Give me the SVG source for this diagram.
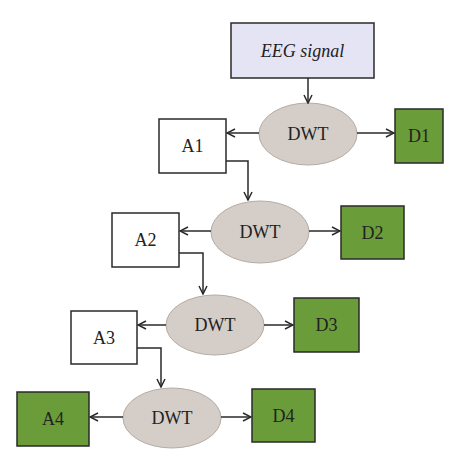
<svg xmlns="http://www.w3.org/2000/svg" width="474" height="474" viewBox="0 0 474 474">
<style>
.box{fill:#fff;stroke:#2a2a2a;stroke-width:1.5}
.green{fill:#6a9c3a;stroke:#2a2a2a;stroke-width:1.5}
.sig{fill:#e4e4f4;stroke:#2a2a2a;stroke-width:1.5}
.ell{fill:#d5cdc7;stroke:#b5aca6;stroke-width:1}
.t{font-family:"Liberation Serif",serif;font-size:18px;fill:#222;text-anchor:middle;dominant-baseline:central}
.c{fill:none;stroke:#2a2a2a;stroke-width:1.5;marker-end:url(#ah)}
</style>
<defs>
<marker id="ah" viewBox="0 0 10 10" refX="9" refY="5" markerWidth="10" markerHeight="10" markerUnits="userSpaceOnUse" orient="auto">
<path d="M1,1 L9,5 L1,9" fill="none" stroke="#2a2a2a" stroke-width="1.5"/>
</marker>
</defs>
<g id="eeg"><rect class="sig" x="231" y="23" width="143" height="55"/><text class="t" x="302.5" y="50.5" font-style="italic" font-size="16.5">EEG signal</text></g>
<g id="dwt1"><ellipse class="ell" cx="308" cy="134" rx="49" ry="31"/><text class="t" x="308" y="134">DWT</text></g>
<g id="a1"><rect class="box" x="159" y="119" width="67" height="54"/><text class="t" x="192.5" y="146">A1</text></g>
<g id="d1"><rect class="green" x="395" y="109" width="48" height="54"/><text class="t" x="419" y="136">D1</text></g>
<g id="dwt2"><ellipse class="ell" cx="260" cy="232" rx="49" ry="31"/><text class="t" x="260" y="232">DWT</text></g>
<g id="a2"><rect class="box" x="112" y="213" width="67" height="54"/><text class="t" x="145.5" y="240">A2</text></g>
<g id="d2"><rect class="green" x="341" y="206" width="63" height="53"/><text class="t" x="372.5" y="232.5">D2</text></g>
<g id="dwt3"><ellipse class="ell" cx="215" cy="325" rx="49" ry="30"/><text class="t" x="215" y="325">DWT</text></g>
<g id="a3"><rect class="box" x="71" y="311" width="66" height="53"/><text class="t" x="104" y="337.5">A3</text></g>
<g id="d3"><rect class="green" x="294" y="298" width="65" height="54"/><text class="t" x="326.5" y="325">D3</text></g>
<g id="dwt4"><ellipse class="ell" cx="172" cy="418" rx="49" ry="30"/><text class="t" x="172" y="418">DWT</text></g>
<g id="a4"><rect class="green" x="17" y="392" width="72" height="54"/><text class="t" x="53" y="419">A4</text></g>
<g id="d4"><rect class="green" x="252" y="389" width="63" height="53"/><text class="t" x="283.5" y="415.5">D4</text></g>
<g id="connectors">
<path class="c" d="M308,78 V103"/>
<path class="c" d="M259,133 H227"/>
<path class="c" d="M357,133 H394"/>
<path class="c" d="M226,161 H248 V200"/>
<path class="c" d="M211,231 H180"/>
<path class="c" d="M309,231 H340"/>
<path class="c" d="M179,253 H203 V294"/>
<path class="c" d="M166,325 H138"/>
<path class="c" d="M264,325 H293"/>
<path class="c" d="M137,348 H161 V387"/>
<path class="c" d="M123,417 H90"/>
<path class="c" d="M221,417 H251"/>
</g>
</svg>
